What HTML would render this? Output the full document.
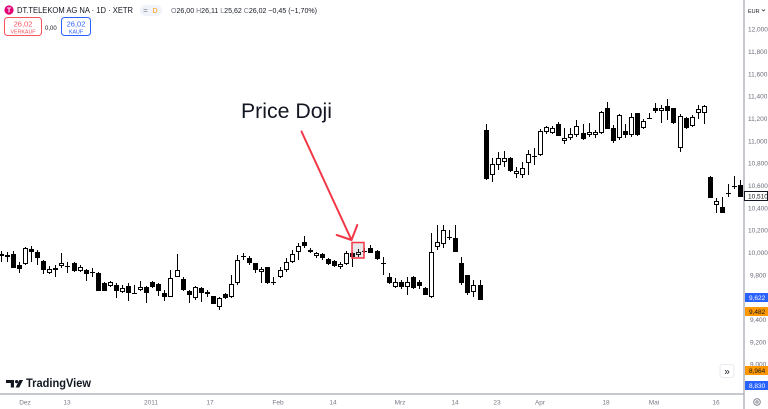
<!DOCTYPE html>
<html><head><meta charset="utf-8"><style>
html,body{margin:0;padding:0;background:#fff;}
svg{display:block;font-family:"Liberation Sans",sans-serif;}
</style></head><body>
<svg width="768" height="409" viewBox="0 0 768 409" xmlns="http://www.w3.org/2000/svg">
<rect width="768" height="409" fill="#fff"/>
<!-- wicks -->
<path stroke="#000" stroke-width="1" fill="none" d="M1.5 251V262M7.5 252V262M13.5 251V268M19.5 262V273M25.5 247V265M31.5 246V262M37.5 250V265M43.5 260V274M49.5 266V274M55.5 265V277M61.5 253V268M67.5 262V273M74.5 262V272M80.5 265V272M86.5 269V281M92.5 268V277M98.5 272V291M104.5 282V291M110.5 281V287M116.5 283V298M122.5 285V293M128.5 283V301M134.5 285V294M140.5 281V291M146.5 286V303M152.5 281V288M158.5 283V296M164.5 290V301M170.5 270V297M177.5 254V277M183.5 277V291M189.5 290V303M195.5 286V300M201.5 287V302M207.5 290V297M213.5 296V304M219.5 297V310M225.5 293V299M231.5 275V298M237.5 255V285M243.5 253V260M249.5 256V265M255.5 263V273M261.5 267V283M267.5 267V284M273.5 277V285M280.5 267V278M286.5 258V272M292.5 250V263M298.5 243V260M304.5 236V248M310.5 248V253M316.5 252V258M322.5 253V260M328.5 258V265M334.5 260V267M340.5 262V269M346.5 251V265M352.5 252V267M358.5 249V257M364.5 248V253M370.5 245V253M377.5 250V260M383.5 257V275M389.5 273V284M395.5 278V288M401.5 280V289M407.5 277V295M413.5 276V289M419.5 280V289M425.5 287V295M431.5 233V298M437.5 225V250M443.5 225V248M449.5 230V240M455.5 225V252M461.5 257V285M467.5 275V295M473.5 280V297M480.5 280V300M486.5 124V180M492.5 158V182M498.5 152V170M504.5 151V167M510.5 157V172M516.5 167V178M522.5 162V178M528.5 150V175M534.5 148V165M540.5 129V156M546.5 126V134M552.5 126V134M558.5 122V136M564.5 128V144M570.5 128V140M576.5 120V137M583.5 124V140M589.5 123V137M595.5 130V138M601.5 111V134M607.5 102V129M613.5 125V143M619.5 114V140M625.5 124V138M631.5 113V137M637.5 113V136M643.5 119V129M649.5 113V119M655.5 103V113M661.5 105V123M667.5 99V120M673.5 108V124M680.5 114V152M686.5 117V129M692.5 115V127M698.5 105V119M704.5 105V124M710.5 176V198M716.5 198V213M722.5 197V213M728.5 184V197M734.5 176V189M740.5 180V197"/>
<!-- black bodies -->
<g fill="#000">
<rect x="-1" y="254" width="5" height="2"/><rect x="5" y="255" width="5" height="2"/><rect x="11" y="254" width="5" height="14"/><rect x="17" y="265" width="5" height="4"/><rect x="29" y="249" width="5" height="3"/><rect x="35" y="252" width="5" height="6"/><rect x="41" y="261" width="5" height="9"/><rect x="53" y="268" width="5" height="2"/><rect x="65" y="266" width="5" height="1"/><rect x="72" y="263" width="5" height="8"/><rect x="84" y="270" width="5" height="4"/><rect x="90" y="272" width="5" height="1"/><rect x="96" y="273" width="5" height="18"/><rect x="102" y="283" width="5" height="8"/><rect x="114" y="285" width="5" height="6"/><rect x="126" y="286" width="5" height="7"/><rect x="132" y="293" width="5" height="1"/><rect x="144" y="287" width="5" height="6"/><rect x="150" y="282" width="5" height="5"/><rect x="156" y="284" width="5" height="7"/><rect x="162" y="293" width="5" height="4"/><rect x="181" y="279" width="5" height="11"/><rect x="187" y="291" width="5" height="4"/><rect x="199" y="288" width="5" height="5"/><rect x="205" y="292" width="5" height="2"/><rect x="211" y="296" width="5" height="8"/><rect x="223" y="294" width="5" height="4"/><rect x="241" y="256" width="5" height="1"/><rect x="247" y="258" width="5" height="5"/><rect x="253" y="263" width="5" height="7"/><rect x="265" y="267" width="5" height="16"/><rect x="271" y="282" width="5" height="1"/><rect x="302" y="242" width="5" height="4"/><rect x="308" y="250" width="5" height="2"/><rect x="320" y="254" width="5" height="4"/><rect x="326" y="259" width="5" height="5"/><rect x="332" y="261" width="5" height="5"/><rect x="350" y="253" width="5" height="4"/><rect x="362" y="251" width="5" height="1"/><rect x="368" y="248" width="5" height="5"/><rect x="375" y="251" width="5" height="8"/><rect x="381" y="263" width="5" height="1"/><rect x="387" y="277" width="5" height="6"/><rect x="399" y="282" width="5" height="5"/><rect x="411" y="277" width="5" height="11"/><rect x="417" y="282" width="5" height="4"/><rect x="423" y="288" width="5" height="7"/><rect x="447" y="237" width="5" height="1"/><rect x="453" y="238" width="5" height="14"/><rect x="459" y="263" width="5" height="20"/><rect x="465" y="275" width="5" height="18"/><rect x="478" y="285" width="5" height="15"/><rect x="484" y="130" width="5" height="49"/><rect x="508" y="158" width="5" height="13"/><rect x="532" y="156" width="5" height="1"/><rect x="556" y="124" width="5" height="12"/><rect x="581" y="133" width="5" height="6"/><rect x="605" y="108" width="5" height="21"/><rect x="611" y="128" width="5" height="13"/><rect x="623" y="131" width="5" height="4"/><rect x="635" y="113" width="5" height="22"/><rect x="647" y="118" width="5" height="1"/><rect x="653" y="108" width="5" height="3"/><rect x="665" y="106" width="5" height="5"/><rect x="671" y="108" width="5" height="15"/><rect x="684" y="118" width="5" height="10"/><rect x="708" y="177" width="5" height="21"/><rect x="720" y="207" width="5" height="6"/><rect x="726" y="193" width="5" height="1"/><rect x="732" y="186" width="5" height="1"/><rect x="738" y="185" width="5" height="12"/>
</g>
<!-- white bodies -->
<g fill="#fff" stroke="#000" stroke-width="1">
<rect x="23.5" y="248.5" width="4" height="15"/><rect x="47.5" y="269.5" width="4" height="3"/><rect x="59.5" y="263.5" width="4" height="2"/><rect x="78.5" y="267.5" width="4" height="3"/><rect x="108.5" y="282.5" width="4" height="3"/><rect x="120.5" y="288.5" width="4" height="3"/><rect x="138.5" y="287.5" width="4" height="2"/><rect x="168.5" y="278.5" width="4" height="18"/><rect x="175.5" y="270.5" width="4" height="6"/><rect x="193.5" y="287.5" width="4" height="10"/><rect x="217.5" y="298.5" width="4" height="8"/><rect x="229.5" y="284.5" width="4" height="12"/><rect x="235.5" y="260.5" width="4" height="22"/><rect x="259.5" y="269.5" width="4" height="2"/><rect x="278.5" y="270.5" width="4" height="6"/><rect x="284.5" y="262.5" width="4" height="7"/><rect x="290.5" y="254.5" width="4" height="7"/><rect x="296.5" y="246.5" width="4" height="5"/><rect x="314.5" y="253.5" width="4" height="2"/><rect x="338.5" y="264.5" width="4" height="2"/><rect x="344.5" y="253.5" width="4" height="10"/><rect x="356.5" y="252.5" width="4" height="2"/><rect x="393.5" y="282.5" width="4" height="4"/><rect x="405.5" y="282.5" width="4" height="4"/><rect x="429.5" y="252.5" width="4" height="44"/><rect x="435.5" y="242.5" width="4" height="4"/><rect x="441.5" y="230.5" width="4" height="13"/><rect x="471.5" y="285.5" width="4" height="6"/><rect x="490.5" y="164.5" width="4" height="10"/><rect x="496.5" y="158.5" width="4" height="6"/><rect x="502.5" y="158.5" width="4" height="3"/><rect x="514.5" y="171.5" width="4" height="2"/><rect x="520.5" y="168.5" width="4" height="6"/><rect x="526.5" y="154.5" width="4" height="8"/><rect x="538.5" y="131.5" width="4" height="23"/><rect x="544.5" y="127.5" width="4" height="4"/><rect x="550.5" y="128.5" width="4" height="4"/><rect x="562.5" y="138.5" width="4" height="2"/><rect x="568.5" y="134.5" width="4" height="3"/><rect x="574.5" y="126.5" width="4" height="8"/><rect x="587.5" y="132.5" width="4" height="2"/><rect x="593.5" y="132.5" width="4" height="2"/><rect x="599.5" y="112.5" width="4" height="20"/><rect x="617.5" y="115.5" width="4" height="22"/><rect x="629.5" y="117.5" width="4" height="17"/><rect x="641.5" y="121.5" width="4" height="6"/><rect x="659.5" y="108.5" width="4" height="2"/><rect x="678.5" y="116.5" width="4" height="31"/><rect x="690.5" y="117.5" width="4" height="8"/><rect x="696.5" y="109.5" width="4" height="3"/><rect x="702.5" y="106.5" width="4" height="6"/><rect x="714.5" y="201.5" width="4" height="3"/>
</g>
<!-- doji highlight -->
<rect x="352" y="242.5" width="12" height="15.5" fill="rgba(120,123,134,0.18)" stroke="#f23645" stroke-width="1.5"/>
<!-- arrow -->
<g stroke="#f23645" stroke-width="2" fill="none" stroke-linecap="round" stroke-linejoin="round">
<path d="M301.5 131.5L351.5 240"/>
<path d="M336.7 235L351.5 240L357.3 225"/>
</g>
<text x="241" y="118" font-size="21.5" fill="#131722" textLength="91" lengthAdjust="spacingAndGlyphs">Price Doji</text>
<!-- axes -->
<line x1="744" y1="0" x2="744" y2="409" stroke="#b2b5be" stroke-width="1.5"/>
<line x1="0" y1="394" x2="744" y2="394" stroke="#b2b5be" stroke-width="1.5"/>
<!-- price labels -->
<g font-size="6.5" fill="#6a6d78">
<text x="748" y="31.6">12,000</text>
<text x="748" y="53.9">11,800</text>
<text x="748" y="76.3">11,600</text>
<text x="748" y="98.6">11,400</text>
<text x="748" y="121">11,200</text>
<text x="748" y="143.3">11,000</text>
<text x="748" y="165.7">10,800</text>
<text x="748" y="188">10,600</text>
<text x="748" y="210.3">10,400</text>
<text x="748" y="232.7">10,200</text>
<text x="748" y="255">10,000</text>
<text x="750" y="277.3">9,800</text>
<text x="750" y="322">9,400</text>
<text x="750" y="344.3">9,200</text>
<text x="750" y="366.5">9,000</text>
</g>
<text x="748" y="13" font-size="5.5" fill="#131722">EUR</text>
<path d="M762 9.5l1.5 1.5l1.5-1.5" stroke="#131722" stroke-width="0.7" fill="none"/>
<!-- colored price boxes -->
<rect x="744.5" y="191.5" width="23" height="9" fill="#fff" stroke="#131722" stroke-width="1"/>
<text x="748" y="198.5" font-size="6.5" fill="#131722">10,510</text>
<rect x="745" y="293" width="23" height="9" fill="#2962ff"/>
<text x="749" y="300" font-size="6.5" fill="#fff">9,622</text>
<rect x="745" y="307" width="23" height="9" fill="#ff9800"/>
<text x="749" y="314" font-size="6.5" fill="#131722">9,482</text>
<rect x="745" y="366" width="23" height="9" fill="#ff9800"/>
<text x="749" y="373" font-size="6.5" fill="#131722">8,964</text>
<rect x="745" y="381" width="23" height="9" fill="#2962ff"/>
<text x="749" y="388" font-size="6.5" fill="#fff">8,830</text>
<!-- scroll button -->
<rect x="720" y="364.5" width="14" height="13" rx="2.5" fill="#fff" stroke="#e0e3eb" stroke-width="0.8"/>
<text x="727" y="374.5" font-size="10" fill="#131722" text-anchor="middle">»</text>
<!-- settings icon -->
<circle cx="757" cy="402" r="3.3" fill="none" stroke="#787b86" stroke-width="0.9"/>
<circle cx="757" cy="402" r="1.2" fill="none" stroke="#787b86" stroke-width="0.8"/>
<!-- date labels -->
<g font-size="6.5" fill="#787b86" text-anchor="middle">
<text x="25" y="404.5">Dez</text>
<text x="67" y="404.5">13</text>
<text x="151" y="404.5">2011</text>
<text x="210" y="404.5">17</text>
<text x="278" y="404.5">Feb</text>
<text x="333" y="404.5">14</text>
<text x="400" y="404.5">Mrz</text>
<text x="455" y="404.5">14</text>
<text x="497" y="404.5">23</text>
<text x="540" y="404.5">Apr</text>
<text x="606" y="404.5">18</text>
<text x="654" y="404.5">Mai</text>
<text x="716" y="404.5">16</text>
</g>
<!-- TradingView logo -->
<g fill="#131722">
<path d="M6 380h8v7.5h-3.2v-4.5H6z"/>
<circle cx="16.6" cy="381.6" r="1.6"/>
<path d="M19.3 380h3.8l-3.9 7.5h-3.6z"/>
</g>
<text x="26" y="387" font-size="11.5" font-weight="bold" fill="#131722" textLength="65" lengthAdjust="spacingAndGlyphs">TradingView</text>
<!-- header -->
<circle cx="9" cy="10" r="4.6" fill="#e20074"/>
<text x="9" y="12.6" font-size="7" font-weight="bold" fill="#fff" text-anchor="middle">T</text>
<text x="17" y="13" font-size="8.5" fill="#131722" textLength="116" lengthAdjust="spacingAndGlyphs">DT.TELEKOM AG NA · 1D · XETR</text>
<rect x="140" y="5" width="22" height="11" rx="5.5" fill="#f0f3fa"/>
<text x="145.5" y="13" font-size="8" fill="#787b86" text-anchor="middle">=</text>
<text x="155" y="13" font-size="7" fill="#ff9800" text-anchor="middle">D</text>
<text x="171" y="13" font-size="7.5" fill="#131722" textLength="146" lengthAdjust="spacingAndGlyphs"><tspan fill="#787b86">O</tspan>26,00 <tspan fill="#787b86">H</tspan>26,11 <tspan fill="#787b86">L</tspan>25,62 <tspan fill="#787b86">C</tspan>26,02 −0,45 (−1,70%)</text>
<rect x="4.5" y="17.5" width="37" height="18" rx="3" fill="#fff" stroke="#f7525f" stroke-width="1"/>
<text x="23" y="26.5" font-size="7.5" fill="#f7525f" text-anchor="middle">26,02</text>
<text x="23" y="33.5" font-size="5.3" fill="#f7525f" text-anchor="middle">VERKAUF</text>
<text x="45" y="30" font-size="6" fill="#131722">0,00</text>
<rect x="61.5" y="17.5" width="29" height="18" rx="3" fill="#fff" stroke="#2962ff" stroke-width="1"/>
<text x="76" y="26.5" font-size="7.5" fill="#2962ff" text-anchor="middle">26,02</text>
<text x="76" y="33.5" font-size="5.3" fill="#2962ff" text-anchor="middle">KAUF</text>
</svg>
</body></html>
